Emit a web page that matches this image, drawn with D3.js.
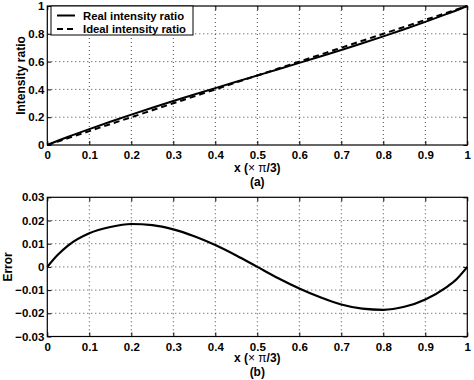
<!DOCTYPE html>
<html><head><meta charset="utf-8">
<script src="https://cdn.jsdelivr.net/npm/d3@7"></script>
<style>
html,body{margin:0;padding:0;background:#fff;}
svg{display:block;font-family:"Liberation Sans",Arial,Helvetica,sans-serif;}
</style></head>
<body>
<svg id="chart" width="474" height="380"></svg>
<script>
// ---- data ----
const xValues = [0, 0.025, 0.05, 0.1, 0.15, 0.2, 0.25, 0.3, 0.35, 0.4, 0.45, 0.5, 0.55, 0.6, 0.65, 0.7, 0.75, 0.8, 0.85, 0.9, 0.95, 0.975, 1];
const idealRatio = [0, 0.025, 0.05, 0.1, 0.15, 0.2, 0.25, 0.3, 0.35, 0.4, 0.45, 0.5, 0.55, 0.6, 0.65, 0.7, 0.75, 0.8, 0.85, 0.9, 0.95, 0.975, 1];
const realRatio = [0, 0.0302, 0.0593, 0.1145, 0.1672, 0.2185, 0.2680, 0.3162, 0.3632, 0.4094, 0.4549, 0.5, 0.5451, 0.5907, 0.6369, 0.6838, 0.7320, 0.7815, 0.8328, 0.8860, 0.9412, 0.9698, 1];
const errorValues = [0, 0.0052, 0.0093, 0.0145, 0.0172, 0.0185, 0.0180, 0.0162, 0.0132, 0.0094, 0.0049, 0, -0.0049, -0.0093, -0.0131, -0.0162, -0.0180, -0.0185, -0.0172, -0.0140, -0.0088, -0.0052, 0];
const xTicks = [0, 0.1, 0.2, 0.3, 0.4, 0.5, 0.6, 0.7, 0.8, 0.9, 1];
const ratioTicks = [0, 0.2, 0.4, 0.6, 0.8, 1];
const errorTicks = [-0.03, -0.02, -0.01, 0, 0.01, 0.02, 0.03];
const legendLabels = ["Real intensity ratio", "Ideal intensity ratio"];

const svg = d3.select("#chart");
const x = d3.scaleLinear().domain([0, 1]).range([47.3, 467.3]);
const yTop = d3.scaleLinear().domain([0, 1]).range([145, 6]);
const yBot = d3.scaleLinear().domain([-0.03, 0.03]).range([336.5, 197.3]);

const fmtX = d => d === 0 ? "0" : d === 1 ? "1" : d3.format(".1f")(d);
const fmtTop = d => d === 0 ? "0" : d === 1 ? "1" : d3.format(".1f")(d);
const fmtBot = d => d === 0 ? "0" : d3.format(".2f")(d).replace("-", "\u2212");

function panel(y, yTicks, yFmt, yLabel, yLabelX, tickLabelDy, xLabelY, subLabel, subY) {
  const g = svg.append("g");
  const [x0, x1] = x.range();
  const [yb, yt] = y.range();
  // grid
  g.append("g").selectAll("line.gx").data(xTicks.filter(d => d > 0 && d < 1)).join("line")
    .attr("x1", d => x(d)).attr("x2", d => x(d)).attr("y1", yt).attr("y2", yb)
    .attr("stroke", "#444").attr("stroke-width", 1).attr("stroke-dasharray", "1,3");
  g.append("g").selectAll("line.gy").data(yTicks.filter((d, i) => i > 0 && i < yTicks.length - 1)).join("line")
    .attr("x1", x0).attr("x2", x1).attr("y1", d => y(d)).attr("y2", d => y(d))
    .attr("stroke", "#444").attr("stroke-width", 1).attr("stroke-dasharray", "1,3");
  // axes (inward ticks on all sides)
  const ax = g.append("g").attr("transform", `translate(0,${yb})`).call(d3.axisBottom(x).tickValues(xTicks).tickFormat(fmtX).tickSizeInner(-4).tickSizeOuter(0).tickPadding(6));
  const axT = g.append("g").attr("transform", `translate(0,${yt})`).call(d3.axisTop(x).tickValues(xTicks).tickFormat("").tickSizeInner(-4).tickSizeOuter(0));
  const ay = g.append("g").attr("transform", `translate(${x0},0)`).call(d3.axisLeft(y).tickValues(yTicks).tickFormat(yFmt).tickSizeInner(-4).tickSizeOuter(0).tickPadding(6));
  const ayR = g.append("g").attr("transform", `translate(${x1},0)`).call(d3.axisRight(y).tickValues(yTicks).tickFormat("").tickSizeInner(-4).tickSizeOuter(0));
  [ax, axT, ay, ayR].forEach(a => {
    a.select(".domain").remove();
    a.selectAll("line").attr("stroke", "#000");
    a.selectAll("text").attr("font-size", "11.5px").attr("font-weight", "bold").attr("fill", "#000");
  });
  ax.selectAll("text").attr("dy", null).attr("y", tickLabelDy);
  ay.selectAll("text").attr("x", -3);
  // frame
  g.append("rect").attr("x", x0).attr("y", yt).attr("width", x1 - x0).attr("height", yb - yt)
    .attr("fill", "none").attr("stroke", "#000").attr("stroke-width", 1.2);
  // y label
  g.append("text").attr("transform", `translate(${yLabelX},${(yt + yb) / 2}) rotate(-90)`)
    .attr("text-anchor", "middle").attr("font-size", "12px").attr("font-weight", "bold").text(yLabel);
  // x label
  const xl = g.append("text").attr("x", (x0 + x1) / 2).attr("y", xLabelY).attr("text-anchor", "middle")
    .attr("font-size", "12px").attr("font-weight", "bold");
  xl.append("tspan").text("x (");
  xl.append("tspan").attr("font-weight", "normal").text("\u00d7 \u03c0");
  xl.append("tspan").text("/3)");
  g.append("text").attr("x", (x0 + x1) / 2).attr("y", subY).attr("text-anchor", "middle")
    .attr("font-size", "12px").attr("font-weight", "bold").text(subLabel);
  return g;
}

const topPanel = panel(yTop, ratioTicks, fmtTop, "Intensity ratio", 25, 14, 172, "(a)", 186);
const botPanel = panel(yBot, errorTicks, fmtBot, "Error", 12, 14, 362, "(b)", 376);

const lineTop = (arr) => d3.line().x((d, i) => x(xValues[i])).y(d => yTop(d)).curve(d3.curveMonotoneX)(arr);
topPanel.append("path").attr("d", lineTop(idealRatio)).attr("fill", "none").attr("stroke", "#000")
  .attr("stroke-width", 2).attr("stroke-dasharray", "6,4");
topPanel.append("path").attr("d", lineTop(realRatio)).attr("fill", "none").attr("stroke", "#000")
  .attr("stroke-width", 2);

botPanel.append("path").attr("d", d3.line().x((d, i) => x(xValues[i])).y(d => yBot(d)).curve(d3.curveMonotoneX)(errorValues))
  .attr("fill", "none").attr("stroke", "#000").attr("stroke-width", 2.2);

// legend
const lg = svg.append("g");
lg.append("rect").attr("x", 51).attr("y", 6).attr("width", 142).attr("height", 29)
  .attr("fill", "#fff").attr("stroke", "#000").attr("stroke-width", 1);
legendLabels.forEach((lab, i) => {
  const yy = 15.5 + i * 13.5;
  lg.append("line").attr("x1", 57).attr("x2", 75).attr("y1", yy).attr("y2", yy)
    .attr("stroke", "#000").attr("stroke-width", 2).attr("stroke-dasharray", i === 0 ? null : "6,4");
  lg.append("text").attr("x", 83).attr("y", yy + 4).attr("font-size", "11.3px").attr("font-weight", "bold").text(lab);
});
</script>
</body></html>
